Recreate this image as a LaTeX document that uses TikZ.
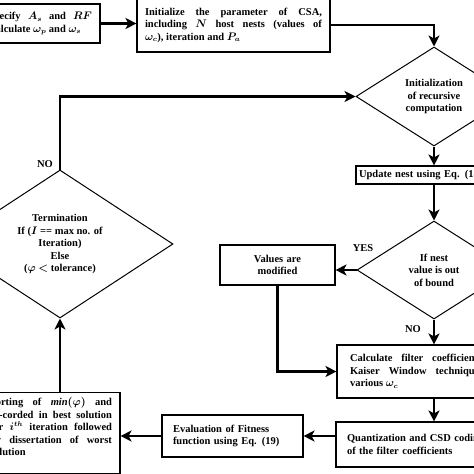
\documentclass[tikz,border=0pt]{standalone}
\usepackage{fontspec}
\setmainfont{Liberation Serif}
\usetikzlibrary{shapes.geometric,arrows.meta}

\begin{document}
\begin{tikzpicture}[x=1pt,y=-1pt,
  font=\bfseries\boldmath\fontsize{10.5}{12.5}\selectfont,
  box/.style={draw,line width=1.1pt,inner ysep=0pt,inner xsep=8pt,align=justify},
  dia/.style={draw,diamond,line width=1pt,inner sep=0pt,aspect=1.5,align=center},
  arr/.style={line width=2.6pt,-{Stealth[length=11pt,width=11pt,inset=3pt]}}]
\useasboundingbox (0,0) rectangle (474,474);
\clip (0,0) rectangle (474,474);

\node[box,text width=104pt,minimum height=39pt] (spec) at (40,23.5) {Specify $A_s$ and $RF$\linebreak Calculate $\omega_p$ and $\omega_s$};
\node[box,text width=177pt,minimum height=54pt] (init) at (233.5,25) {Initialize the parameter of CSA,\linebreak including $N$ host nests (values of\linebreak $\omega_c$), iteration and $P_a$};
\node[dia,minimum width=156pt,minimum height=99pt] (rec) at (434,96.5) {Initialization\\of recursive\\computation};
\node[box,text width=150pt,inner xsep=3pt,minimum height=18pt,align=left] (upd) at (434,175) {Update nest using Eq. (18)};
\node[dia,minimum width=154pt,minimum height=98pt] (bound) at (434,270) {If nest\\value is out\\of bound};
\node[box,text width=99pt,minimum height=40pt,align=center] (mod) at (277.5,265) {Values are\\modified};
\node[box,text width=152pt,inner xsep=13pt,minimum height=53pt] (calc) at (426,371.5) {Calculate filter coefficients by\linebreak Kaiser Window technique for\linebreak various $\omega_c$};
\node[box,text width=174pt,inner xsep=11pt,minimum height=45pt,align=left] (quant) at (434,444.5) {Quantization and CSD coding\\of the filter coefficients};
\node[box,text width=119pt,inner xsep=11pt,minimum height=42pt,align=left] (eval) at (232.5,436) {Evaluation of Fitness\\function using Eq. (19)};
\node[box,text width=122pt,inner ysep=5pt,anchor=north] (sort) at (51,392) {Sorting of $\mathit{min}(\varphi)$ and\linebreak re-corded in best solution\linebreak for $i^{th}$ iteration followed\linebreak by dissertation of worst\linebreak solution\\\mbox{}};
\node[dia,minimum width=226pt,minimum height=148pt] (term) at (60,244) {Termination\\If ($I$ == max no. of\\Iteration)\\Else\\($\varphi$ $<$ tolerance)};

\node (no1) at (45,164) {NO};
\node (yes) at (363,248) {YES};
\node (no2) at (413,329) {NO};

\draw[arr] (spec.east) -- (spec.east -| init.west);
\draw[arr] (init.east) -| (rec.north);
\draw[arr] (rec.south) -- (upd.north);
\draw[arr] (upd.south) -- (bound.north);
\draw[arr] (bound.west) -- (bound.west -| mod.east);
\draw[arr] (bound.south) -- (bound.south |- calc.north);
\draw[arr] (mod.south) |- (calc.west);
\draw[arr] (calc.south -| quant.north) -- (quant.north);
\draw[arr] (eval.east -| quant.west) -- (eval.east);
\draw[arr] (eval.west) -- (eval.west -| sort.east);
\draw[arr] (sort.north -| term.south) -- (term.south);
\draw[arr] (term.north) |- (rec.west);
\end{tikzpicture}
\end{document}
